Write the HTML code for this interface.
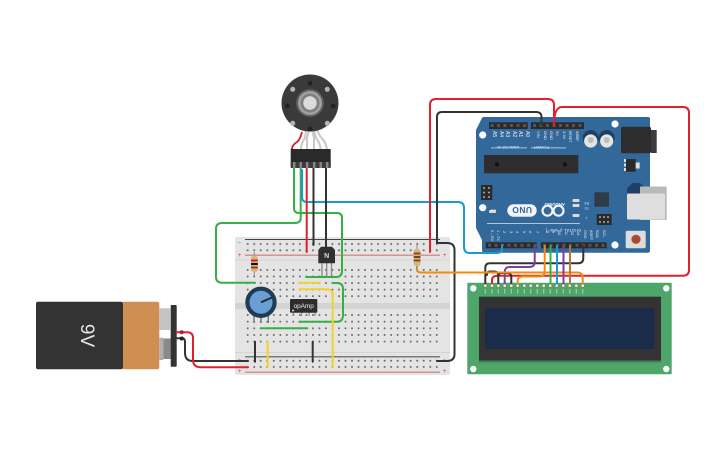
<!DOCTYPE html>
<html><head><meta charset="utf-8"><style>
html,body{margin:0;padding:0;background:#fff}
svg{display:block}
text{font-family:"Liberation Sans",sans-serif}
.w{fill:none;stroke-width:2;stroke-linecap:round;stroke-linejoin:round}
</style></head><body>
<svg width="725" height="453" viewBox="0 0 725 453" xmlns="http://www.w3.org/2000/svg">
<defs>
<pattern id="h" x="244.45" y="266.73" width="6.52" height="6.55" patternUnits="userSpaceOnUse"><rect x="2.2" y="2.2" width="2.2" height="2.2" fill="#f6f6f6"/><circle cx="3.26" cy="3.27" r="1" fill="#666"/></pattern>
<pattern id="h2" x="244.45" y="311.73" width="6.52" height="6.65" patternUnits="userSpaceOnUse"><rect x="2.2" y="2.2" width="2.2" height="2.2" fill="#f6f6f6"/><circle cx="3.26" cy="3.27" r="1" fill="#666"/></pattern>
<pattern id="hr" x="244.45" y="240.8" width="6.52" height="6.3" patternUnits="userSpaceOnUse"><circle cx="3.26" cy="3.2" r="1" fill="#666"/></pattern>
<pattern id="hr2" x="244.45" y="357.5" width="6.52" height="6.3" patternUnits="userSpaceOnUse"><circle cx="3.26" cy="3.2" r="1" fill="#666"/></pattern>
<pattern id="lbl" x="244.45" y="0" width="6.52" height="6" patternUnits="userSpaceOnUse"><rect x="1.8" y="1.5" width="3" height="1.2" fill="#aaa"/></pattern>
</defs>

<!-- breadboard -->
<rect x="235" y="237" width="215" height="138" rx="1.5" fill="#e4e4e4"/>
<rect x="235" y="259.5" width="215" height="1" fill="#d4d4d4"/>
<rect x="235" y="352" width="215" height="1" fill="#d4d4d4"/>
<rect x="235" y="303" width="215" height="6" fill="#d3d3d3"/>
<rect x="245" y="239" width="195" height="0.9" fill="#333"/>
<rect x="245" y="254.7" width="195" height="0.9" fill="#c86060"/>
<rect x="245" y="356.4" width="195" height="0.9" fill="#333"/>
<rect x="245" y="371.7" width="195" height="0.9" fill="#c86060"/>
<rect x="244.45" y="240.8" width="195.6" height="12.6" fill="url(#hr)"/>
<rect x="244.45" y="357.5" width="195.6" height="12.6" fill="url(#hr2)"/>
<rect x="244.45" y="262" width="195.6" height="3" fill="url(#lbl)"/>
<rect x="244.45" y="346" width="195.6" height="3" fill="url(#lbl)"/>
<rect x="244.45" y="266.73" width="195.6" height="32.75" fill="url(#h)"/>
<rect x="244.45" y="311.73" width="195.6" height="33.25" fill="url(#h2)"/>
<text x="238" y="244" font-size="5" fill="#444">−</text>
<text x="238" y="257" font-size="6" fill="#c33">+</text>
<text x="443" y="244" font-size="5" fill="#444">−</text>
<text x="443" y="257" font-size="6" fill="#c33">+</text>
<text x="238" y="361" font-size="5" fill="#444">−</text>
<text x="238" y="373" font-size="6" fill="#c33">+</text>
<text x="443" y="361" font-size="5" fill="#444">−</text>
<text x="443" y="373" font-size="6" fill="#c33">+</text>

<!-- Arduino -->
<path d="M483 117H648Q650 117 650 119V250.5Q650 252.7 648 252.7H485Q482 252.7 482 250V240L476 228V130L482 118Z" fill="#32689a"/>
<rect x="489" y="122.3" width="38.7" height="6.7" fill="#2b2b2b"/>
<rect x="531" y="122.3" width="53" height="6.7" fill="#2b2b2b"/>
<rect x="485.7" y="242.3" width="51" height="6" fill="#2b2b2b"/>
<rect x="541" y="242.3" width="65.7" height="6" fill="#2b2b2b"/>
<g fill="#555">
<rect x="490.5" y="124" width="3" height="3"/><rect x="497" y="124" width="3" height="3"/><rect x="503.5" y="124" width="3" height="3"/><rect x="510" y="124" width="3" height="3"/><rect x="516.5" y="124" width="3" height="3"/><rect x="523" y="124" width="3" height="3"/>
<rect x="533" y="124" width="3" height="3"/><rect x="539.5" y="124" width="3" height="3"/><rect x="546" y="124" width="3" height="3"/><rect x="552.5" y="124" width="3" height="3"/><rect x="559" y="124" width="3" height="3"/><rect x="565.5" y="124" width="3" height="3"/><rect x="572" y="124" width="3" height="3"/><rect x="578.5" y="124" width="3" height="3"/>
<rect x="488" y="243.8" width="3" height="3"/><rect x="494.5" y="243.8" width="3" height="3"/><rect x="501" y="243.8" width="3" height="3"/><rect x="507.5" y="243.8" width="3" height="3"/><rect x="514" y="243.8" width="3" height="3"/><rect x="520.5" y="243.8" width="3" height="3"/><rect x="527" y="243.8" width="3" height="3"/><rect x="533.5" y="243.8" width="3" height="3"/>
<rect x="543" y="243.8" width="3" height="3"/><rect x="549.5" y="243.8" width="3" height="3"/><rect x="556" y="243.8" width="3" height="3"/><rect x="562.5" y="243.8" width="3" height="3"/><rect x="569" y="243.8" width="3" height="3"/><rect x="575.5" y="243.8" width="3" height="3"/><rect x="582" y="243.8" width="3" height="3"/><rect x="588.5" y="243.8" width="3" height="3"/><rect x="595" y="243.8" width="3" height="3"/><rect x="601.5" y="243.8" width="3" height="3"/>
</g>
<g fill="#fff">
<circle cx="615" cy="124" r="3.6"/><circle cx="482.7" cy="135" r="3.6"/><circle cx="482.7" cy="207.7" r="3.6"/><circle cx="615" cy="245" r="3.6"/>
</g>
<!-- top labels -->
<g fill="#f0f4f8" font-size="5">
<text transform="translate(493,131) rotate(90)">A5</text><text transform="translate(500,131) rotate(90)">A4</text><text transform="translate(506,131) rotate(90)">A3</text><text transform="translate(513,131) rotate(90)">A2</text><text transform="translate(519,131) rotate(90)">A1</text><text transform="translate(526,131) rotate(90)">A0</text>
<text transform="translate(537,131) rotate(90)" font-size="4">VIN</text><text transform="translate(544,131) rotate(90)" font-size="4">GND</text><text transform="translate(550,131) rotate(90)" font-size="4">GND</text><text transform="translate(556,131) rotate(90)" font-size="4">5V</text><text transform="translate(563,131) rotate(90)" font-size="4">3.3V</text><text transform="translate(569,131) rotate(90)" font-size="3.4">RESET</text><text transform="translate(576,131) rotate(90)" font-size="3.4">IOREF</text>
<text transform="translate(519,146) rotate(180)" font-size="4">ANALOG IN</text>
<text transform="translate(549,146) rotate(180)" font-size="4">POWER</text>
<text transform="translate(581,229) rotate(180)" font-size="4" letter-spacing=".3">DIGITAL (PWM~)</text>
</g>
<rect x="491" y="147.5" width="36" height=".8" fill="#cfdce8"/>
<rect x="531" y="147.5" width="35" height=".8" fill="#cfdce8"/>
<rect x="487" y="223" width="93" height=".8" fill="#cfdce8"/>
<g fill="#f0f4f8" font-size="3.8">
<text transform="translate(491,230) rotate(90)">0→RX</text><text transform="translate(497,230) rotate(90)">1→TX</text><text transform="translate(503,231) rotate(90)">2</text><text transform="translate(510,231) rotate(90)">3</text><text transform="translate(516,231) rotate(90)">4</text><text transform="translate(523,231) rotate(90)">5</text><text transform="translate(529,231) rotate(90)">6</text><text transform="translate(536,231) rotate(90)">7</text><text transform="translate(546,231) rotate(90)">8</text><text transform="translate(552,231) rotate(90)">9</text><text transform="translate(558,231) rotate(90)">10</text><text transform="translate(565,231) rotate(90)">11</text><text transform="translate(571,231) rotate(90)">12</text><text transform="translate(577,231) rotate(90)">13</text><text transform="translate(584,230) rotate(90)">GND</text><text transform="translate(590,230) rotate(90)">AREF</text><text transform="translate(596,230) rotate(90)">SDA</text><text transform="translate(603,230) rotate(90)">SCL</text>
</g>
<!-- chip -->
<rect x="484" y="155" width="94.3" height="18.3" fill="#2e2e2e"/>
<circle cx="497" cy="164.5" r="2.2" fill="#111"/><circle cx="565" cy="164.5" r="2.2" fill="#111"/>
<!-- caps -->
<circle cx="590.7" cy="138" r="8" fill="#1f3f66"/><circle cx="590.7" cy="141" r="6.6" fill="#e4e4e0"/><circle cx="590.7" cy="140" r="3" fill="#bbb"/>
<circle cx="606.7" cy="138" r="8" fill="#1f3f66"/><circle cx="606.7" cy="141" r="6.6" fill="#e4e4e0"/><circle cx="606.7" cy="140" r="3" fill="#bbb"/>
<!-- jack -->
<rect x="621" y="126.7" width="30" height="26.6" rx="2" fill="#2d2d2d"/>
<rect x="651" y="130" width="5.7" height="23" fill="#3c3c3c"/>
<!-- regulator -->
<rect x="624" y="159" width="2" height="3" fill="#ddd"/><rect x="624" y="163.5" width="2" height="3" fill="#ddd"/><rect x="624" y="168" width="2" height="3" fill="#ddd"/>
<rect x="626" y="159" width="9.7" height="12.7" fill="#2b2b2b"/><rect x="635.7" y="162.5" width="4" height="6" fill="#ddd"/>
<!-- usb -->
<path d="M627 200V188L633 183H640L645 188V200Z" fill="#1f3f66"/>
<rect x="640" y="186.5" width="26.7" height="33.5" fill="#b9b9b9"/>
<rect x="627" y="193.5" width="38" height="26" rx="1" fill="#dedede"/>
<!-- button -->
<rect x="625.7" y="230.7" width="20" height="17.6" rx="1.5" fill="#dcdcdc"/>
<circle cx="636" cy="239.3" r="4.6" fill="#a84a2f"/>
<!-- small chips -->
<rect x="594.3" y="192.3" width="14.7" height="14.4" rx="1" fill="#2f3c47"/>
<rect x="596.7" y="214" width="15" height="11" fill="#2b2b2b"/>
<g fill="#aaa"><circle cx="600" cy="217" r="1"/><circle cx="604" cy="217" r="1"/><circle cx="608" cy="217" r="1"/><circle cx="600" cy="222" r="1"/><circle cx="604" cy="222" r="1"/><circle cx="608" cy="222" r="1"/></g>
<rect x="481" y="185" width="11.3" height="15" fill="#2b2b2b"/>
<g fill="#aaa"><circle cx="484" cy="188" r="1"/><circle cx="489" cy="188" r="1"/><circle cx="484" cy="192.5" r="1"/><circle cx="489" cy="192.5" r="1"/><circle cx="484" cy="197" r="1"/><circle cx="489" cy="197" r="1"/></g>
<!-- leds -->
<rect x="572.5" y="199" width="7" height="3" rx="1" fill="#d9d9d9"/><rect x="572.5" y="204" width="7" height="3" rx="1" fill="#d9d9d9"/><rect x="572.5" y="214" width="7" height="3" rx="1" fill="#d9d9d9"/>
<rect x="489" y="210" width="7" height="3" rx="1" fill="#d9d9d9"/>
<g fill="#e8eef4" font-size="3.4"><text transform="translate(589,202) rotate(180)">RX</text><text transform="translate(589,207) rotate(180)">TX</text><text transform="translate(587,217) rotate(180)">L</text><text transform="translate(496,209) rotate(180)">ON</text></g>
<!-- logo -->
<rect x="507.3" y="204.3" width="29.4" height="12.4" rx="6.2" fill="#f2f4f6"/>
<text transform="translate(532,207) rotate(180)" font-size="8.5" font-weight="bold" fill="#32689a" letter-spacing=".4">UNO</text>
<circle cx="547.5" cy="210.7" r="5" fill="none" stroke="#f2f4f6" stroke-width="2.2"/>
<circle cx="558.5" cy="210.7" r="5" fill="none" stroke="#f2f4f6" stroke-width="2.2"/>
<text transform="translate(565,203) rotate(180)" font-size="4.4" font-weight="bold" fill="#f2f4f6">ARDUINO</text>

<!-- LCD -->
<rect x="467.3" y="282.7" width="204.4" height="91.6" rx="1" fill="#4fa66a"/>
<g fill="#fff"><circle cx="473.3" cy="288.3" r="3.2"/><circle cx="666.3" cy="288.3" r="3.2"/><circle cx="473.3" cy="369" r="3.2"/><circle cx="666.3" cy="369" r="3.2"/></g>
<rect x="479" y="296.7" width="182" height="65" fill="#333"/>
<rect x="479" y="360.5" width="182" height="2" fill="#3f7f55"/>
<rect x="485" y="308.3" width="169.3" height="40.7" fill="#1b2b4a"/>
<g fill="#9fcbae">
<rect x="484.7" y="289" width="1.2" height="4.5"/><rect x="491.4" y="289" width="1.2" height="4.5"/><rect x="497.7" y="289" width="1.2" height="4.5"/><rect x="504.1" y="289" width="1.2" height="4.5"/><rect x="510.7" y="289" width="1.2" height="4.5"/><rect x="517.1" y="289" width="1.2" height="4.5"/><rect x="523.7" y="289" width="1.2" height="4.5"/><rect x="530.1" y="289" width="1.2" height="4.5"/><rect x="536.7" y="289" width="1.2" height="4.5"/><rect x="543.1" y="289" width="1.2" height="4.5"/><rect x="549.7" y="289" width="1.2" height="4.5"/><rect x="556.1" y="289" width="1.2" height="4.5"/><rect x="562.7" y="289" width="1.2" height="4.5"/><rect x="569.1" y="289" width="1.2" height="4.5"/><rect x="575.7" y="289" width="1.2" height="4.5"/><rect x="582.1" y="289" width="1.2" height="4.5"/>
</g>

<!-- Battery -->
<rect x="36" y="301.7" width="87" height="67.6" rx="2" fill="#333"/>
<path d="M123 301.7H157.3Q159.3 301.7 159.3 303.7V367.3Q159.3 369.3 157.3 369.3H123Z" fill="#cf8f52"/>
<text transform="translate(81,335.5) rotate(90)" font-size="19" fill="#e6e6e6" text-anchor="middle">9V</text>
<rect x="159.3" y="308.3" width="11" height="21.7" fill="#c4c4c4"/>
<rect x="159.3" y="337.7" width="4" height="22.3" fill="#b0b0b0"/>
<rect x="163.3" y="338.5" width="8" height="20.5" fill="#8a8a8a"/>
<rect x="170.7" y="305" width="6" height="61.7" rx="1" fill="#333"/>

<!-- Potentiometer -->
<path d="M254 312V323M261 312V323M268.3 312V323" stroke="#777" stroke-width="1.4"/>
<circle cx="261" cy="302.3" r="15.7" fill="#1f3c55"/>
<circle cx="261" cy="302.3" r="11.5" fill="#6a9fd4"/>
<path d="M261 302.3L272 297.5" stroke="#1c2e42" stroke-width="2"/>

<!-- Opamp -->
<path d="M293.5 310V316M301.5 310V316M309 310V316M315 310V316" stroke="#888" stroke-width="1.2"/>
<rect x="290" y="299" width="27.3" height="13.7" rx="1" fill="#2d2d2d"/>
<circle cx="293" cy="310.5" r="1" fill="#ddd"/>
<text x="303.7" y="308" font-size="6.4" fill="#eee" text-anchor="middle">opAmp</text>

<!-- board wires -->
<path class="w" stroke="#34b044" d="M294 168V208Q294 213 299 213H337Q342 213 342 218V271Q342 277 336 277H306"/>
<path class="w" stroke="#34b044" d="M300.7 168V218Q300.7 223 295 223H222Q216 223 216 229V277Q216 282.7 222 282.7H255"/>
<path class="w" stroke="#1b9ad0" d="M302 170V197Q302 202 307 202H458Q464 202 464 208V247Q464 253 470 253H497Q502 253 502 248V245"/>
<path class="w" stroke="#e0202a" d="M306.7 168V252"/>
<path class="w" stroke="#333" d="M313.5 168V245"/>
<path class="w" stroke="#333" d="M326 168V248"/>
<path class="w" stroke="#34b044" d="M332.7 283H337Q343 283 343 289V315Q343 321.7 337 321.7H299.3"/>
<path class="w" stroke="#34b044" d="M260.7 328.3H307.3"/>
<path class="w" stroke="#f2d22e" d="M299.3 282.7H320"/>
<path class="w" stroke="#f2d22e" d="M299.3 289.3H327Q332.7 289.3 332.7 295V366.7"/>
<path class="w" stroke="#f2d22e" d="M267.7 341.7V366.7"/>
<path class="w" stroke="#333" d="M255 341.7V361.7"/>
<path class="w" stroke="#333" d="M312.7 341.7V361.7"/>
<path class="w" stroke="#e0202a" d="M430 252V105Q430 99 436 99H548Q554 99 554 105V125"/>
<path class="w" stroke="#333" d="M437 243V117Q437 112 442 112H536Q541.5 112 541.5 117V125"/>
<path class="w" stroke="#333" d="M437 243H447Q454.5 243 454.5 250V354Q454.5 361 447 361H437"/>
<path class="w" stroke="#e0202a" d="M554 125Q554 107 562 107H683Q689 107 689 113V270Q689 275.7 683 275.7H498Q492 275.7 492 280V285"/>

<!-- LCD wires -->
<path class="w" stroke="#333" d="M583.3 246V258Q583.3 263.3 578 263.3H490Q485.3 263.3 485.3 268V285"/>
<path class="w" stroke="#333" d="M498.3 285V276Q498.3 271.5 494 271.5H490Q487 271.5 487 275"/>
<path class="w" stroke="#333" d="M511.3 285V277Q511.3 273 507 273H502Q498.3 273 498.3 276"/>
<path class="w" stroke="#7b3fa0" d="M534.7 246V262Q534.7 267 529 267H510Q504.7 267 504.7 272V285"/>
<path class="w" stroke="#f08a10" d="M544.7 246V271Q544.7 276.5 539 276.5H523Q517.7 276.5 517.7 281V285"/>
<path class="w" stroke="#f08a10" d="M417 266V269Q417 272.5 421 272.5H577Q582.7 272.5 582.7 278V285"/>
<path class="w" stroke="#34b044" d="M550.5 246V285"/>
<path class="w" stroke="#1b9ad0" d="M557 246V285"/>
<path class="w" stroke="#7b3fa0" d="M563.5 246V285"/>
<path class="w" stroke="#b5793a" d="M570 246V285"/>
<g fill="#f5f0dc" stroke="#6a6a4a" stroke-width=".5">
<circle cx="485.3" cy="285.7" r="1.7"/><circle cx="492" cy="285.7" r="1.7"/><circle cx="498.3" cy="285.7" r="1.7"/><circle cx="504.7" cy="285.7" r="1.7"/><circle cx="511.3" cy="285.7" r="1.7"/><circle cx="517.7" cy="285.7" r="1.7"/><circle cx="524.3" cy="285.7" r="1.7"/><circle cx="530.7" cy="285.7" r="1.7"/><circle cx="537.3" cy="285.7" r="1.7"/><circle cx="543.7" cy="285.7" r="1.7"/><circle cx="550.3" cy="285.7" r="1.7"/><circle cx="556.7" cy="285.7" r="1.7"/><circle cx="563.3" cy="285.7" r="1.7"/><circle cx="569.7" cy="285.7" r="1.7"/><circle cx="576.3" cy="285.7" r="1.7"/><circle cx="582.7" cy="285.7" r="1.7"/>
</g>

<!-- Battery wires -->
<path class="w" stroke="#333" d="M176.7 338.3H182Q185 338.3 185 342V353Q185 361 193 361H248"/>
<path class="w" stroke="#e0202a" d="M176.7 332.3H187Q193 332.3 193 338V360Q193 367.3 201 367.3H248"/>
<circle cx="181.7" cy="332.3" r="2" fill="#b81c22"/>
<circle cx="181.7" cy="338.5" r="2" fill="#222"/>

<!-- Transistor -->
<path d="M322 262V276M326.7 262V276M331.5 262V276" stroke="#888" stroke-width="1.3"/>
<path d="M321 246.7H332L335 250V263.3H318.3V250Z" fill="#2f2f2f"/>
<text x="326.7" y="258" font-size="7" font-weight="bold" fill="#ddd" text-anchor="middle">N</text>

<!-- Resistors -->
<path d="M254.3 252V276" stroke="#999" stroke-width="1.2"/>
<rect x="251" y="256" width="6.8" height="16" rx="2.5" fill="#d9b57c"/>
<rect x="251" y="259.5" width="6.8" height="2" fill="#d9232a"/>
<rect x="251" y="263" width="6.8" height="2" fill="#111"/>
<rect x="251" y="266.5" width="6.8" height="2" fill="#8a4b20"/>
<path d="M417 245V272" stroke="#999" stroke-width="1.2"/>
<rect x="413.7" y="249" width="6.8" height="17" rx="2.5" fill="#d9b57c"/>
<rect x="413.7" y="252.5" width="6.8" height="2" fill="#8a4b20"/>
<rect x="413.7" y="256" width="6.8" height="2" fill="#6b4a2a"/>
<rect x="413.7" y="259.5" width="6.8" height="2" fill="#8a4b20"/>

<!-- Encoder -->
<path d="M292 149Q292 145 297 142Q300 140 302 132" fill="none" stroke="#d8202a" stroke-width="1.8"/>
<path d="M301 149Q301 143 305 138L306 130M307 149V138L309 130M314 149V138L312 130M320.7 149Q320 143 316 138L314 130M327 149Q326 142 320 136L317 130" fill="none" stroke="#c8c8c8" stroke-width="2"/>
<circle cx="310" cy="103" r="28.5" fill="#3a3a3a"/>
<circle cx="310" cy="103" r="14" fill="#5e5e5e"/>
<circle cx="310" cy="103" r="12" fill="#a2a2a2"/>
<circle cx="310" cy="103" r="9.5" fill="#808080"/>
<circle cx="310" cy="103" r="6.7" fill="#dcdcdc"/>
<g fill="#222"><circle cx="310" cy="83.3" r="2.4"/><circle cx="310" cy="129" r="2.4"/><circle cx="287.3" cy="106" r="2.4"/><circle cx="333.3" cy="106" r="2.4"/></g>
<g fill="#b5b5b5"><circle cx="292.7" cy="89.3" r="2.5"/><circle cx="327.3" cy="89.3" r="2.5"/><circle cx="292.7" cy="123.3" r="2.5"/><circle cx="327.3" cy="123.3" r="2.5"/></g>
<rect x="290.7" y="149" width="40" height="17" fill="#2a2a2a"/>
<rect x="290.7" y="162" width="40" height="6" fill="#3d3d3d"/>
<g fill="#888"><rect x="293" y="162" width="2.4" height="6"/><rect x="299.5" y="162" width="2.4" height="6"/><rect x="306" y="162" width="2.4" height="6"/><rect x="313" y="162" width="2.4" height="6"/><rect x="319.5" y="162" width="2.4" height="6"/><rect x="326" y="162" width="2.4" height="6"/></g>
</svg>
</body></html>
